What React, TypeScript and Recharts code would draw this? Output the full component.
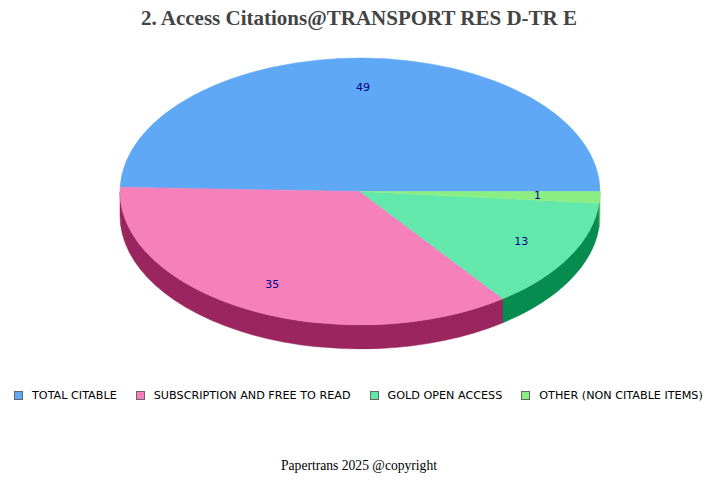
import React from 'react';
import { PieChart, Pie, Legend } from 'recharts';

const categories = ['TOTAL CITABLE', 'SUBSCRIPTION AND FREE TO READ', 'GOLD OPEN ACCESS', 'OTHER (NON CITABLE ITEMS)'];
// labels are rounded in the picture, the slice angles show the finer values
const citations = [48.6, 35, 13.2, 1.37];
const topColors = ['#5fa8f6', '#f580ba', '#63e8ab', '#8bee83'];
const sideColors = ['#1f66b0', '#9a255f', '#078c50', '#6fb865'];
const labelReach = [0.78, 0.79, 0.77, 0.74];

const FONT = '"DejaVu Sans", sans-serif';
const SERIF = '"Liberation Serif", serif';
const SQUASH = 133.5 / 240;
const DEPTH = 24;

const sliceData = categories.map((name, i) => ({
  name,
  value: citations[i],
  fill: topColors[i],
  side: sideColors[i],
  reach: labelReach[i],
}));

const pt = (cx: number, cy: number, r: number, deg: number) => {
  const a = (deg * Math.PI) / 180;
  return [cx + r * Math.cos(a), cy - r * SQUASH * Math.sin(a)];
};

// flattened sector plus its outer wall, only the front half of the wall can be seen
const TiltedSector = (props: any) => {
  const { cx, cy, outerRadius: r, startAngle, endAngle, fill, side } = props;
  const ry = r * SQUASH;
  const [x0, y0] = pt(cx, cy, r, startAngle);
  const [x1, y1] = pt(cx, cy, r, endAngle);
  const large = endAngle - startAngle > 180 ? 1 : 0;
  const from = Math.max(startAngle, 180);
  const to = Math.min(endAngle, 360);
  const [wx0, wy0] = pt(cx, cy, r, from);
  const [wx1, wy1] = pt(cx, cy, r, to);
  return (
    <g>
      {to > from && (
        <path
          d={`M${wx0},${wy0}A${r},${ry} 0 0 0 ${wx1},${wy1}L${wx1},${wy1 + DEPTH}A${r},${ry} 0 0 1 ${wx0},${wy0 + DEPTH}Z`}
          fill={side}
          stroke={side}
          strokeWidth={0.5}
        />
      )}
      <path d={`M${cx},${cy}L${x0},${y0}A${r},${ry} 0 ${large} 0 ${x1},${y1}Z`} fill={fill} stroke={fill} strokeWidth={0.5} />
    </g>
  );
};

const sliceLabel = (props: any) => {
  const { cx, cy, outerRadius, midAngle, value, reach } = props;
  const [x, y] = pt(cx, cy, outerRadius * reach, midAngle);
  return (
    <text x={x} y={y} fill="#00008b" fontSize={11} fontFamily={FONT} textAnchor="middle" dominantBaseline="central">
      {Math.round(value)}
    </text>
  );
};

const LegendRow = ({ payload }: any) => (
  <div style={{ display: 'flex', fontFamily: FONT, fontSize: 11.2, color: '#000', whiteSpace: 'nowrap' }}>
    {(payload || []).map((entry: any) => (
      <div key={entry.value} style={{ display: 'flex', alignItems: 'center', marginRight: 19 }}>
        <span style={{ width: 7, height: 7, background: entry.color, border: '1px solid #666', marginRight: 9 }} />
        {entry.value}
      </div>
    ))}
  </div>
);

export default function App() {
  return (
    <div style={{ position: 'absolute', left: 0, top: 0, width: 720, height: 480, background: '#fff' }}>
      <div style={{ position: 'absolute', top: 6, width: 718, textAlign: 'center', fontFamily: SERIF, fontWeight: 'bold', fontSize: 21, color: '#444' }}>
        2. Access Citations@TRANSPORT RES D-TR E
      </div>
      <PieChart width={720} height={480} margin={{ top: 0, right: 0, bottom: 0, left: 0 }}>
        <Pie
          data={sliceData}
          dataKey="value"
          cx={360}
          cy={191.5}
          outerRadius={240}
          startAngle={0}
          endAngle={360}
          shape={TiltedSector}
          label={sliceLabel}
          labelLine={false}
          isAnimationActive={false}
        />
        <Legend content={LegendRow} itemSorter={null} wrapperStyle={{ position: 'absolute', left: 14, top: 389, width: 706 }} />
      </PieChart>
      <div style={{ position: 'absolute', top: 458, width: 718, textAlign: 'center', fontFamily: SERIF, fontSize: 13.6, color: '#000' }}>
        Papertrans 2025 @copyright
      </div>
    </div>
  );
}
